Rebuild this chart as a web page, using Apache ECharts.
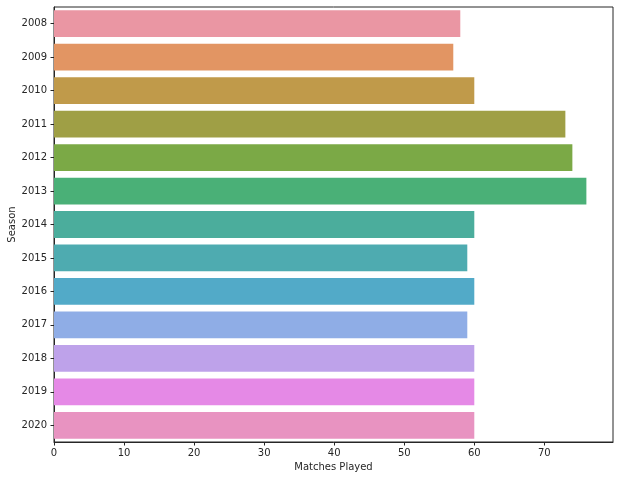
<!DOCTYPE html>
<html><head><meta charset="utf-8">
<script src="https://cdn.jsdelivr.net/npm/echarts@6/dist/echarts.min.js"></script>
<style>html,body{margin:0;padding:0;background:#fff}#c{width:618px;height:480px}</style>
</head><body><div id="c"></div>
<script>
const seasons = ['2008','2009','2010','2011','2012','2013','2014','2015','2016','2017','2018','2019','2020'];
const matchesPlayed = [58,57,60,73,74,76,60,59,60,59,60,60,60];
const xTicks = [0,10,20,30,40,50,60,70];
const barColors = ['#ea96a3','#e29563','#c09a4a','#9f9f45','#7ba946','#4ab077','#4bad9c','#4eabb0','#52aac8','#8fade6','#bea2ea','#e589e6','#e893c1'];

const chart = echarts.init(document.getElementById('c'), null, {renderer:'canvas'});
const font = 'DejaVu Sans';
chart.setOption({
  animation:false,
  backgroundColor:'#fff',
  grid:{left:54,right:5,top:7,bottom:38,containLabel:false,outerBoundsMode:'none',show:true,borderColor:'#262626',borderWidth:1,backgroundColor:'transparent'},
  xAxis:{
    type:'value', min:0, max:76*1.05,
    name:'Matches Played', nameLocation:'middle', nameGap:20, nameMoveOverlap:false,
    nameTextStyle:{fontFamily:font,fontSize:10,color:'#262626'},
    axisLine:{show:true,lineStyle:{color:'#262626',width:1}},
    axisTick:{show:true,length:3.5,lineStyle:{color:'#262626'},customValues:xTicks},
    axisLabel:{fontFamily:font,fontSize:10,color:'#262626',margin:6,customValues:xTicks},
    splitLine:{show:false}
  },
  yAxis:{
    type:'category', data:seasons, inverse:true,
    name:'Season', nameLocation:'middle', nameGap:37, nameRotate:90, nameMoveOverlap:false,
    nameTextStyle:{fontFamily:font,fontSize:10,color:'#262626'},
    axisLine:{show:true,lineStyle:{color:'#262626',width:1}},
    axisTick:{show:true,length:3.5,alignWithLabel:true,lineStyle:{color:'#262626'}},
    axisLabel:{fontFamily:font,fontSize:10,color:'#262626',margin:7}
  },
  series:[{
    type:'bar',
    data:matchesPlayed.map((v,i)=>({value:v,itemStyle:{color:barColors[i]}})),
    barCategoryGap:'20%'
  }]
});
</script></body></html>
